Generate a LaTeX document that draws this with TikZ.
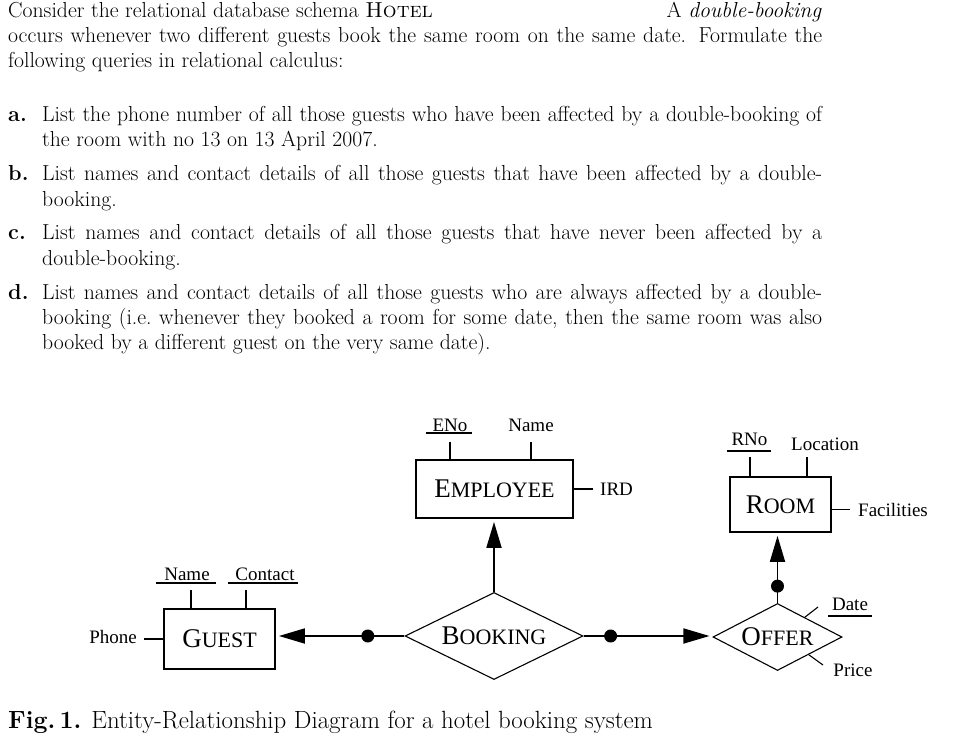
\documentclass[tikz,border=0pt]{standalone}
\usepackage{fontspec}
\usepackage{graphicx}
\newfontfamily\erfont{Liberation Serif}
\usetikzlibrary{arrows.meta,shapes.geometric,calc,positioning}

\newcommand{\ername}[2]{{\fontsize{27}{27}\selectfont #1}{\fontsize{22}{22}\selectfont #2}}
\newcommand{\jline}[2]{\makebox[#1][s]{#2}}

\tikzset{
  txt/.style={anchor=base west, inner sep=0pt, font=\fontsize{21.7}{25}\selectfont},
  entity/.style={draw, line width=1.8pt, inner sep=0pt, font=\erfont},
  relship/.style={draw, diamond, line width=1.1pt, inner sep=0pt, font=\erfont},
  attr/.style={anchor=base, inner sep=0pt, font=\erfont\fontsize{19}{19}\selectfont},
  conn/.style={line width=1.8pt},
  tip/.style={-{Triangle[length=26pt,width=15pt]}, shorten >=3pt},
  dot/.style={circle, fill, inner sep=0pt, minimum size=13pt},
  uline/.style={line width=1.6pt}
}

\begin{document}
\begin{tikzpicture}[x=1pt,y=-1pt]
  \useasboundingbox (0,0) rectangle (967,749);

  \node[txt] (intro1) at (8,17.5) {Consider the relational database schema \textsc{Hotel}};
  \node[txt, anchor=base east] (intro1r) at (822,17.5) {A \emph{double-booking}};
  \node[txt] (intro2) at (8,42.5) {\jline{814pt}{occurs whenever two different guests book the same room on the same date. Formulate the}};
  \node[txt] (intro3) at (8,67.5) {following queries in relational calculus:};

  \node[txt] (qa) at (8,122) {\textbf{a.}};
  \node[txt] (qa1) at (42,122) {\jline{780pt}{List the phone number of all those guests who have been affected by a double-booking of}};
  \node[txt] (qa2) at (42,147) {the room with no 13 on 13 April 2007.};
  \node[txt] (qb) at (8,181) {\textbf{b.}};
  \node[txt] (qb1) at (42,181) {\jline{780pt}{List names and contact details of all those guests that have been affected by a double-}};
  \node[txt] (qb2) at (42,206) {booking.};
  \node[txt] (qc) at (8,240) {\textbf{c.}};
  \node[txt] (qc1) at (42,240) {\jline{780pt}{List names and contact details of all those guests that have never been affected by a}};
  \node[txt] (qc2) at (42,265) {double-booking.};
  \node[txt] (qd) at (8,299) {\textbf{d.}};
  \node[txt] (qd1) at (42,299) {\jline{780pt}{List names and contact details of all those guests who are always affected by a double-}};
  \node[txt] (qd2) at (42,324) {\jline{780pt}{booking (i.e.\ whenever they booked a room for some date, then the same room was also}};
  \node[txt] (qd3) at (42,349) {booked by a different guest on the very same date).};

  \node[entity, minimum width=157pt, minimum height=58pt] (employee) at (494.5,489) {\ername{E}{MPLOYEE}};
  \node[entity, minimum width=101pt, minimum height=55pt] (room) at (780.5,504.5) {\ername{R}{OOM}};
  \node[entity, minimum width=111pt, minimum height=60pt] (guest) at (219.5,639) {\ername{G}{UEST}};
  \node[relship, aspect=2.05, minimum width=178pt, minimum height=87pt] (booking) at (494,636) {\ername{B}{OOKING}};
  \node[relship, aspect=1.93, minimum width=129pt, minimum height=67pt] (offer) at (777.5,637) {\ername{O}{FFER}};

  \node[attr] (eno) at (450,431) {ENo};
  \node[attr] (ename) at (531,431) {Name};
  \node[attr, anchor=base west] (ird) at (600,495) {IRD};
  \node[attr] (rno) at (749.5,445) {RNo};
  \node[attr] (location) at (825,450) {Location};
  \node[attr, anchor=base west] (facilities) at (858,516) {Facilities};
  \node[attr] (gname) at (187,580) {Name};
  \node[attr] (contact) at (265,580) {Contact};
  \node[attr, anchor=base east] (phone) at (137,643) {Phone};
  \node[attr] (date) at (850,610) {Date};
  \node[attr] (price) at (853,676) {Price};

  \draw[uline] ([xshift=-6pt,yshift=-2pt]eno.base west) -- ([xshift=4pt,yshift=-2pt]eno.base east);
  \draw[uline] ([xshift=-4pt,yshift=-6pt]rno.base west) -- ([xshift=3pt,yshift=-6pt]rno.base east);
  \draw[uline] ([xshift=-8pt,yshift=-3pt]gname.base west) -- ([xshift=6pt,yshift=-3pt]gname.base east);
  \draw[uline] ([xshift=-7pt,yshift=-3pt]contact.base west) -- ([xshift=3pt,yshift=-3pt]contact.base east);
  \draw[uline] ([xshift=-4pt,yshift=-6pt]date.base west) -- ([xshift=4pt,yshift=-6pt]date.base east);

  \coordinate (eno-foot) at (450,442);
  \coordinate (ename-foot) at (531,442);
  \coordinate (rno-foot) at (750,457);
  \coordinate (location-foot) at (807,457);
  \coordinate (gname-foot) at (191,590);
  \coordinate (contact-foot) at (246,590);
  \coordinate (date-foot) at (818,607);
  \coordinate (price-foot) at (823,665);

  \draw[conn] (eno-foot) -- (eno-foot |- employee.north);
  \draw[conn] (ename-foot) -- (ename-foot |- employee.north);
  \draw[conn] (employee.east) -- ([xshift=-7pt]ird.west |- employee.east);
  \draw[conn] (rno-foot) -- (rno-foot |- room.north);
  \draw[conn] (location-foot) -- (location-foot |- room.north);
  \draw[conn] (facilities.west -| room.east) -- ([xshift=-8pt]facilities.west);
  \draw[conn] (gname-foot) -- (gname-foot |- guest.north);
  \draw[conn] (contact-foot) -- (contact-foot |- guest.north);
  \draw[conn] ([xshift=7pt]phone.east |- guest.west) -- (guest.west);
  \draw[line width=1.1pt] ($(offer.north)!0.42!(offer.east)$) -- (date-foot);
  \draw[line width=1.1pt] ($(offer.east)!0.52!(offer.south)$) -- (price-foot);

  \draw[conn, tip] (booking.north) -- (booking.north |- employee.south);
  \draw[conn, tip] (booking.west) -- node[dot, pos=0.285] (gdot) {} (booking.west -| guest.east);
  \draw[conn, tip] (booking.east) -- node[dot, pos=0.21] (odot) {} (booking.east -| offer.west);
  \draw[conn, tip] (offer.north) -- node[dot, pos=0.24] (rdot) {} (offer.north |- room.south);

  \node[txt, font=\fontsize{24.9}{25}\selectfont] (caption) at (8,728) {\textbf{Fig.\,1.} Entity-Relationship Diagram for a hotel booking system};
\end{tikzpicture}
\end{document}
